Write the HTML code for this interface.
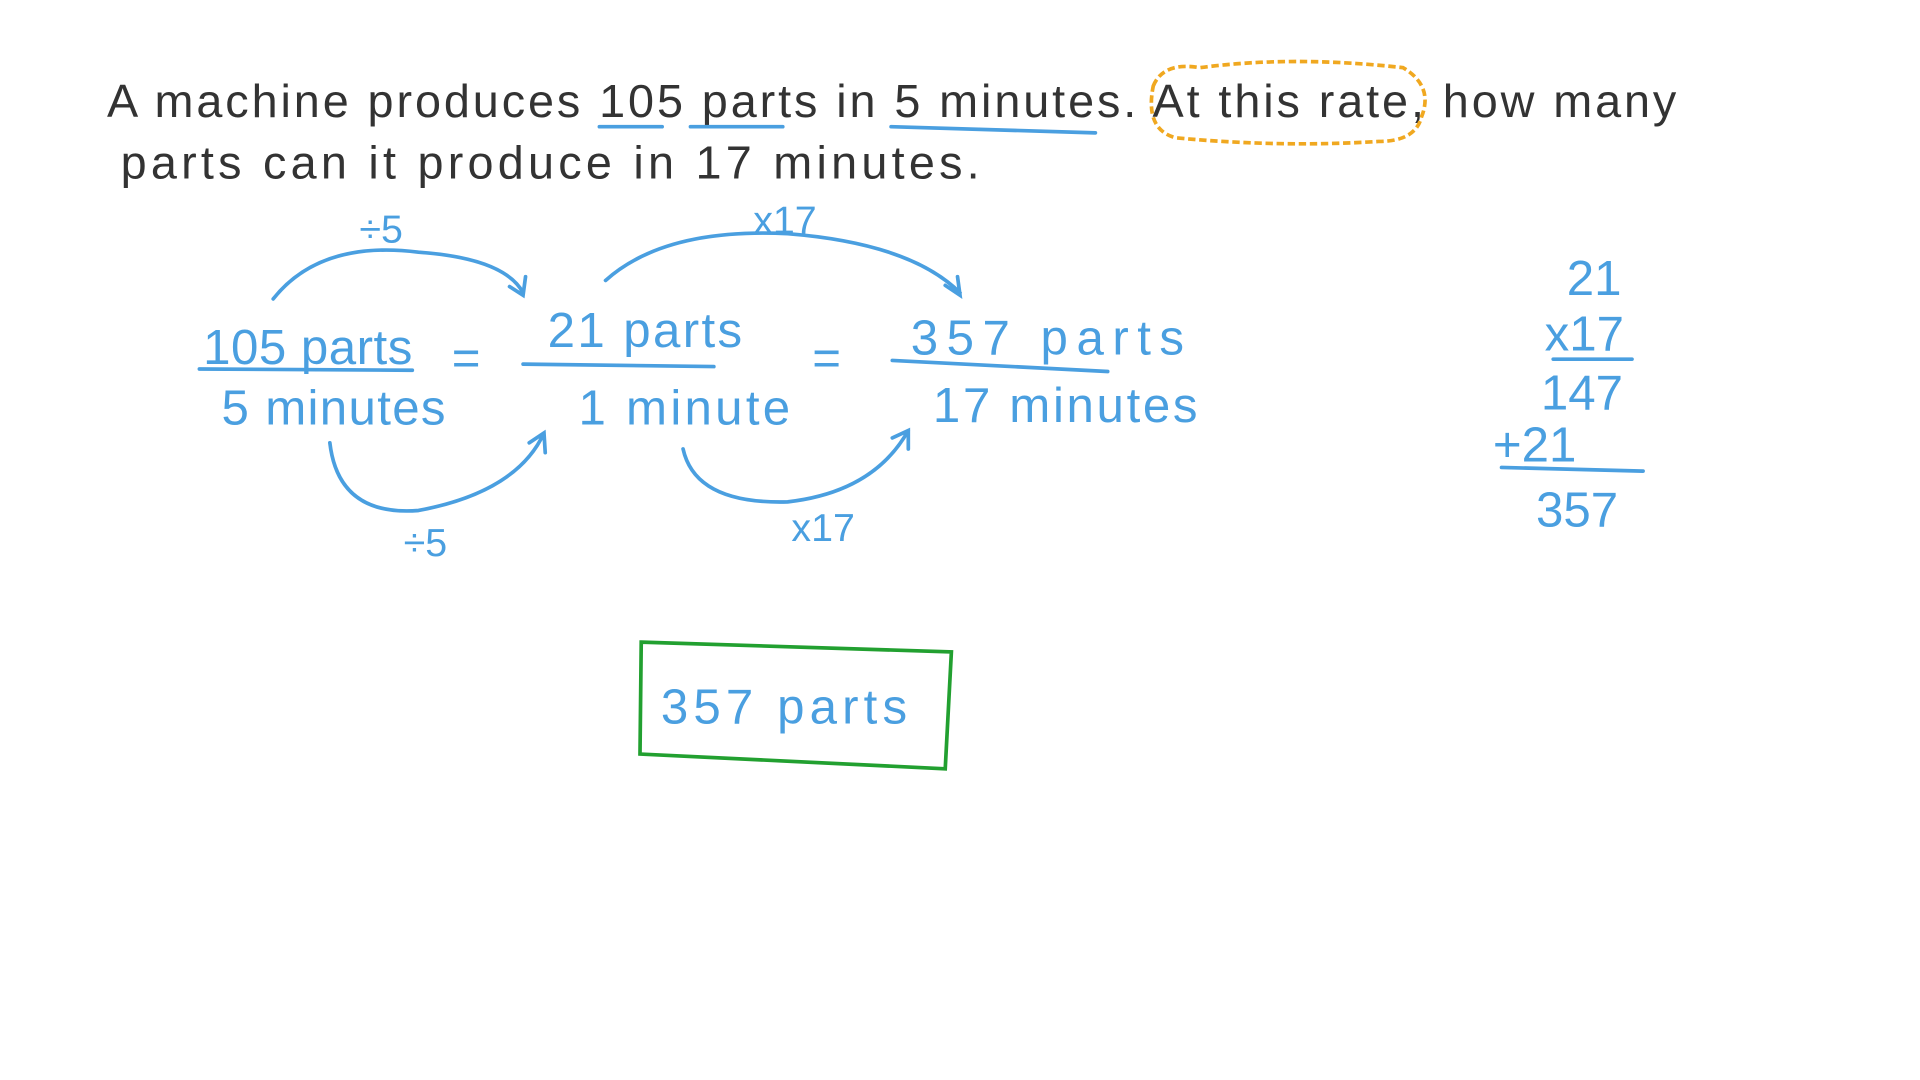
<!DOCTYPE html>
<html><head><meta charset="utf-8"><style>
html,body{margin:0;padding:0;background:#fff;width:1920px;height:1080px;overflow:hidden}
svg{display:block}
text{font-family:"Liberation Sans","DejaVu Sans",sans-serif}
.k{fill:#333;font-size:38px}
.b{fill:#4a9fe0;font-size:40px}
.s{fill:#4a9fe0;font-size:32px}
.l{stroke:#4a9fe0;stroke-width:3;fill:none;stroke-linecap:round}
</style></head><body>
<svg width="1920" height="1080" viewBox="0 0 1560 878" preserveAspectRatio="none">
<text class="k" x="87" y="95" textLength="1275" lengthAdjust="spacing">A machine produces 105 parts in 5 minutes. At this rate, how many</text>
<text class="k" x="98" y="145" textLength="698" lengthAdjust="spacing">parts can it produce in 17 minutes.</text>
<path class="l" d="M487 103 H538 M561 103 H636 M724 103 L890 108"/>
<path d="M937 70 Q945 50 975 55 Q1050 45 1140 55 Q1165 70 1155 95 Q1150 115 1120 115 Q1040 120 955 112 Q930 105 937 70Z" fill="none" stroke="#f0a820" stroke-width="3" stroke-dasharray="6 3"/>
<text class="b" x="165" y="296" textLength="170" lengthAdjust="spacing">105 parts</text>
<path class="l" d="M162 300 L335 301"/>
<text class="b" x="180" y="345" textLength="182" lengthAdjust="spacing">5 minutes</text>
<text class="b" x="367" y="305">=</text>
<text class="b" x="445" y="282" textLength="158" lengthAdjust="spacing">21 parts</text>
<path class="l" d="M425 296 L580 298"/>
<text class="b" x="470" y="345" textLength="172" lengthAdjust="spacing">1 minute</text>
<text class="b" x="660" y="305">=</text>
<text class="b" x="740" y="288" textLength="222" lengthAdjust="spacing">357 parts</text>
<path class="l" d="M725 293 L900 302"/>
<text class="b" x="758" y="343" textLength="215" lengthAdjust="spacing">17 minutes</text>
<text class="s" x="292" y="197">÷5</text>
<path class="l" d="M222 243 Q260 195 340 205 Q410 210 425 238 M414 233 L425 240 L427 225"/>
<text class="s" x="612" y="190">x17</text>
<path class="l" d="M492 228 Q540 185 640 190 Q740 198 780 238 M768 232 L780 240 L778 225"/>
<path class="l" d="M268 360 Q275 420 340 415 Q420 400 442 352 M430 360 L442 352 L443 368"/>
<text class="s" x="328" y="452">÷5</text>
<path class="l" d="M555 365 Q565 410 640 408 Q710 400 738 350 M725 356 L738 350 L738 365"/>
<text class="s" x="643" y="440">x17</text>
<text class="b" x="1273" y="240">21</text>
<text class="b" x="1255" y="285">x17</text>
<path class="l" d="M1262 292 H1326"/>
<text class="b" x="1252" y="333">147</text>
<text class="b" x="1213" y="375">+21</text>
<path class="l" d="M1220 380 L1335 383"/>
<text class="b" x="1248" y="428">357</text>
<path d="M521 522 L773 530 L768 625 L520 613 Z" fill="none" stroke="#22a030" stroke-width="3"/>
<text class="b" x="537" y="588" font-size="44" textLength="200" lengthAdjust="spacing">357 parts</text>
</svg>
</body></html>
